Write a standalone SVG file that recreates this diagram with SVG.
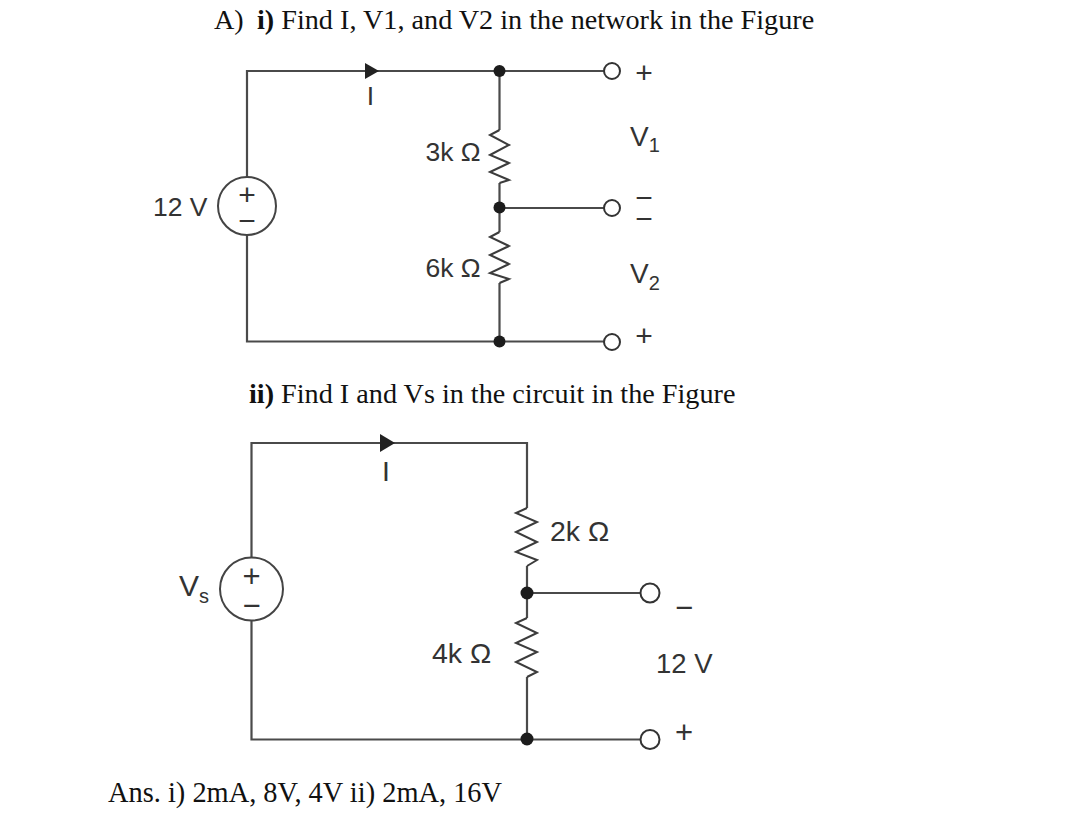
<svg xmlns="http://www.w3.org/2000/svg" width="1080" height="828" viewBox="0 0 1080 828">
<style>
.w{fill:none;stroke:#4a4a4a;stroke-width:2.2;stroke-linejoin:miter}
.r{fill:none;stroke:#3c3c3c;stroke-width:2}
.s{fill:#fff;stroke:#444;stroke-width:2}
.d{fill:#1c1c1c}
.o{fill:#fff;stroke:#333;stroke-width:2}
.a{fill:#222}
.t{font-family:"Liberation Serif","Times New Roman",serif;font-size:28.2px;fill:#111}
.l{font-family:"Liberation Sans",Arial,sans-serif;fill:#333}
.c1{font-size:26.500px}
.c2{font-size:28.500px}
.v1{font-size:28px}
.v2{font-size:30px}
.y1{font-size:30px}
.y2{font-size:31px}
.sub{font-size:20px}
.m{text-anchor:middle}
</style>
<rect width="1080" height="828" fill="#fff"/>
<g id="captions">
<text class="t" x="214" y="29">A)</text>
<text class="t" x="257" y="29"><tspan font-weight="bold">i)</tspan> Find I, V1, and V2 in the network in the Figure</text>
<text class="t" x="249" y="403"><tspan font-weight="bold">ii)</tspan> Find I and Vs in the circuit in the Figure</text>
<text class="t" x="108" y="802" style="font-size:28.400px">Ans. i) 2mA, 8V, 4V ii) 2mA, 16V</text>
</g>
<g id="connectors">
<path class="w" d="M247 177V71H604"/>
<path class="w" d="M247 235V341.500H604"/>
<path class="w" d="M499.500 71V130M499.500 183V232M499.500 283V341.500M499.500 208H604"/>
<path class="w" d="M251.500 557V443H527V508M527 566V618M527 677V739M251.500 621V739.500H640.500M527 593H640.500"/>
</g>
<g id="circuit1-arrow"><polygon class="a" points="365,63 379,71 365,79"/></g>
<g id="circuit1-current"><text class="l c1 m" x="370.500" y="105">I</text></g>
<g id="circuit1-source">
<circle class="s" cx="247" cy="206" r="29"/>
<text class="l y1 m" x="247" y="204.500">+</text>
<text class="l y1 m" x="247" y="230.500">−</text>
<text class="l c1" x="153" y="216">12 V</text>
</g>
<g id="circuit1-r1">
<polyline class="r" points="499.500,130 490,135 509,145 490,155 509,163 490,172 509,180 499.500,183"/>
<text class="l c1" x="425.500" y="161">3k Ω</text>
</g>
<g id="circuit1-r2">
<polyline class="r" points="499.500,232 490,237 509,246 490,255 509,264 490,273 509,279 499.500,283"/>
<text class="l c1" x="425.500" y="277">6k Ω</text>
</g>
<g id="circuit1-nodes">
<circle class="d" cx="499.500" cy="71" r="6"/>
<circle class="d" cx="499.500" cy="207.500" r="6"/>
<circle class="d" cx="499.500" cy="341.500" r="6"/>
</g>
<g id="circuit1-terminals">
<circle class="o" cx="612" cy="71" r="8"/>
<circle class="o" cx="612" cy="208" r="8"/>
<circle class="o" cx="612" cy="342" r="8"/>
<text class="l y1 m" x="644" y="83">+</text>
<text class="l y1 m" x="644" y="207.500">−</text>
<text class="l y1 m" x="644" y="228.500">−</text>
<text class="l y1 m" x="644" y="345.500">+</text>
<text class="l v1" x="630" y="146">V<tspan class="sub" dy="6">1</tspan></text>
<text class="l v1" x="630" y="283">V<tspan class="sub" dy="7">2</tspan></text>
</g>
<g id="circuit2-arrow"><polygon class="a" points="380,434 395,443 380,452"/></g>
<g id="circuit2-current"><text class="l c2 m" x="386" y="481">I</text></g>
<g id="circuit2-source">
<circle class="s" cx="251.500" cy="589" r="31.500"/>
<text class="l y2 m" x="251.500" y="587">+</text>
<text class="l y2 m" x="251.500" y="616">−</text>
<text class="l v2" x="179" y="596">V<tspan class="sub" dy="7">s</tspan></text>
</g>
<g id="circuit2-r1">
<polyline class="r" points="527,508 516,513 537,522 516,532 537,542 516,552 537,560 527,566"/>
<text class="l c2" x="550" y="541">2k Ω</text>
</g>
<g id="circuit2-r2">
<polyline class="r" points="527,618 516,623 537,633 516,643 537,652 516,662 537,672 527,677"/>
<text class="l c2" x="432" y="663">4k Ω</text>
</g>
<g id="circuit2-nodes">
<circle class="d" cx="527" cy="593" r="6.500"/>
<circle class="d" cx="527" cy="739" r="6.500"/>
</g>
<g id="circuit2-terminals">
<circle class="o" cx="650" cy="593" r="9.500"/>
<circle class="o" cx="650" cy="739.500" r="9.500"/>
<text class="l y2 m" x="684" y="618">−</text>
<text class="l y2 m" x="684" y="743">+</text>
<text class="l c2" x="656" y="673" style="font-size:27.500px">12 V</text>
</g>
</svg>
